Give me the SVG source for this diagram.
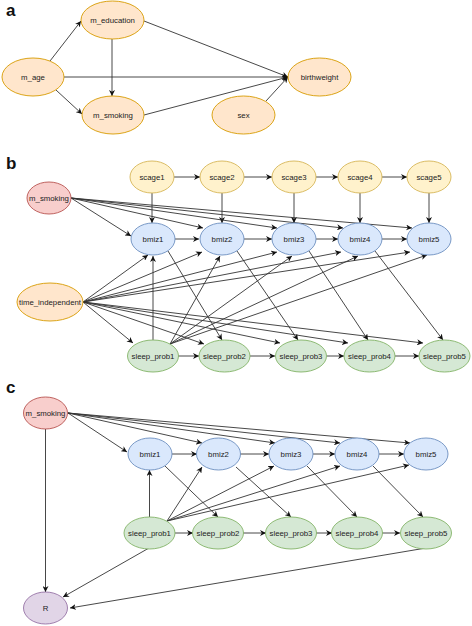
<svg xmlns="http://www.w3.org/2000/svg" width="472" height="626" viewBox="0 0 472 626">
<defs>
<marker id="arr" viewBox="0 0 10 10" refX="10" refY="5" markerWidth="6" markerHeight="6" markerUnits="userSpaceOnUse" orient="auto"><path d="M0,0 L10,5 L0,10 L3,5 z" fill="#111"/></marker>
<style>
.e{fill:none;stroke:#333;stroke-width:0.9;marker-end:url(#arr)}
.o{fill:#ffe6cc;stroke:#d79b00}
.y{fill:#fff2cc;stroke:#d6b656}
.r{fill:#f8cecc;stroke:#b85450}
.b{fill:#dae8fc;stroke:#6c8ebf}
.g{fill:#d5e8d4;stroke:#82b366}
.p{fill:#e1d5e7;stroke:#9673a6}
ellipse{stroke-width:0.9}
text{font-family:"Liberation Sans",Arial,sans-serif;font-size:7.8px;fill:#222;text-anchor:middle;dominant-baseline:central}
.lab{font-size:17px;font-weight:bold;fill:#111;text-anchor:start;dominant-baseline:auto}
</style>
</defs>
<text class="lab" x="6" y="16">a</text>
<text class="lab" x="6" y="169">b</text>
<text class="lab" x="6" y="393">c</text>
<g id="connectors">
<path class="e" d="M50,61 L81,21"/>
<path class="e" d="M56,90 L82,114"/>
<path class="e" d="M112,39 L112,96"/>
<path class="e" d="M144,21 L288,77"/>
<path class="e" d="M64,77 L288,77"/>
<path class="e" d="M144,115 L288,77"/>
<path class="e" d="M266,101 L288,77"/>
<path class="e" d="M174,177 L200,177"/>
<path class="e" d="M244,177 L272,177"/>
<path class="e" d="M316,177 L338,177"/>
<path class="e" d="M382,177 L407,177"/>
<path class="e" d="M152,193 L152,223"/>
<path class="e" d="M222,193 L222,223"/>
<path class="e" d="M294,193 L294,223"/>
<path class="e" d="M360,193 L360,223"/>
<path class="e" d="M429,193 L429,223"/>
<path class="e" d="M175,239 L199,239"/>
<path class="e" d="M244,239 L272,239"/>
<path class="e" d="M316,239 L338,239"/>
<path class="e" d="M382,239 L407,239"/>
<path class="e" d="M71,198 L131,236"/>
<path class="e" d="M71,198 L203,228"/>
<path class="e" d="M71,198 L277,228"/>
<path class="e" d="M71,198 L343,228"/>
<path class="e" d="M71,198 L412,228"/>
<path class="e" d="M83,302 L148,255"/>
<path class="e" d="M83,302 L202,252"/>
<path class="e" d="M83,302 L277,252"/>
<path class="e" d="M83,302 L341,252"/>
<path class="e" d="M83,302 L410,252"/>
<path class="e" d="M83,302 L133,343"/>
<path class="e" d="M83,302 L204,344"/>
<path class="e" d="M83,302 L280,343"/>
<path class="e" d="M83,302 L348,343"/>
<path class="e" d="M83,302 L423,343"/>
<path class="e" d="M153,340 L153,256"/>
<path class="e" d="M170,344 L220,256"/>
<path class="e" d="M170,344 L292,256"/>
<path class="e" d="M170,344 L358,256"/>
<path class="e" d="M170,344 L427,255"/>
<path class="e" d="M168,251 L222,340"/>
<path class="e" d="M237,251 L298,340"/>
<path class="e" d="M309,251 L368,340"/>
<path class="e" d="M375,251 L443,340"/>
<path class="e" d="M178,356 L199,356"/>
<path class="e" d="M250,356 L275,356"/>
<path class="e" d="M327,356 L344,356"/>
<path class="e" d="M395,356 L419,356"/>
<path class="e" d="M68,413 L127,452"/>
<path class="e" d="M68,413 L202,443"/>
<path class="e" d="M68,413 L275,443"/>
<path class="e" d="M68,413 L340,443"/>
<path class="e" d="M68,413 L410,443"/>
<path class="e" d="M45.5,429 L45.5,592"/>
<path class="e" d="M172,454 L197,454"/>
<path class="e" d="M240,454 L269,454"/>
<path class="e" d="M313,454 L335,454"/>
<path class="e" d="M379,454 L404,454"/>
<path class="e" d="M165,466 L218,517"/>
<path class="e" d="M236,467 L291,517"/>
<path class="e" d="M307,466 L357,517"/>
<path class="e" d="M373,466 L423,517"/>
<path class="e" d="M149.5,517 L149.5,470"/>
<path class="e" d="M167,521 L202,467"/>
<path class="e" d="M167,521 L274,466"/>
<path class="e" d="M167,521 L340,466"/>
<path class="e" d="M167,521 L409,465"/>
<path class="e" d="M175,533 L193,533"/>
<path class="e" d="M243,533 L266,533"/>
<path class="e" d="M316,533 L332,533"/>
<path class="e" d="M382,533 L400,533"/>
<path class="e" d="M149,548 L63,597"/>
<path class="e" d="M426,548 L70,608"/>
</g>
<g id="a_m_age"><ellipse class="o" cx="33" cy="77" rx="31" ry="19"/><text x="33" y="77">m_age</text></g>
<g id="a_m_education"><ellipse class="o" cx="112.5" cy="20" rx="31.5" ry="19"/><text x="112.5" y="20">m_education</text></g>
<g id="a_m_smoking"><ellipse class="o" cx="113" cy="115" rx="31" ry="19"/><text x="113" y="115">m_smoking</text></g>
<g id="a_birthweight"><ellipse class="o" cx="319.5" cy="77" rx="31.5" ry="19"/><text x="319.5" y="77">birthweight</text></g>
<g id="a_sex"><ellipse class="o" cx="243.5" cy="115" rx="31.5" ry="19"/><text x="243.5" y="115">sex</text></g>

<g id="b_scage1"><ellipse class="y" cx="152" cy="177" rx="22" ry="16"/><text x="152" y="177">scage1</text></g>
<g id="b_scage2"><ellipse class="y" cx="222" cy="177" rx="22" ry="16"/><text x="222" y="177">scage2</text></g>
<g id="b_scage3"><ellipse class="y" cx="294" cy="177" rx="22" ry="16"/><text x="294" y="177">scage3</text></g>
<g id="b_scage4"><ellipse class="y" cx="360" cy="177" rx="22" ry="16"/><text x="360" y="177">scage4</text></g>
<g id="b_scage5"><ellipse class="y" cx="429" cy="177" rx="22" ry="16"/><text x="429" y="177">scage5</text></g>
<g id="b_m_smoking"><ellipse class="r" cx="49" cy="198" rx="22" ry="16"/><text x="49" y="198">m_smoking</text></g>
<g id="b_bmiz1"><ellipse class="b" cx="153" cy="239" rx="22" ry="16"/><text x="153" y="239">bmiz1</text></g>
<g id="b_bmiz2"><ellipse class="b" cx="222" cy="239" rx="22" ry="16"/><text x="222" y="239">bmiz2</text></g>
<g id="b_bmiz3"><ellipse class="b" cx="294" cy="239" rx="22" ry="16"/><text x="294" y="239">bmiz3</text></g>
<g id="b_bmiz4"><ellipse class="b" cx="360" cy="239" rx="22" ry="16"/><text x="360" y="239">bmiz4</text></g>
<g id="b_bmiz5"><ellipse class="b" cx="429" cy="239" rx="22" ry="16"/><text x="429" y="239">bmiz5</text></g>
<g id="b_time_independent"><ellipse class="o" cx="50" cy="302" rx="33" ry="19"/><text x="50" y="302">time_independent</text></g>
<g id="b_sleep_prob1"><ellipse class="g" cx="153" cy="356" rx="25.5" ry="16"/><text x="153" y="356">sleep_prob1</text></g>
<g id="b_sleep_prob2"><ellipse class="g" cx="224.5" cy="356" rx="25.5" ry="16"/><text x="224.5" y="356">sleep_prob2</text></g>
<g id="b_sleep_prob3"><ellipse class="g" cx="301" cy="356" rx="25.5" ry="16"/><text x="301" y="356">sleep_prob3</text></g>
<g id="b_sleep_prob4"><ellipse class="g" cx="369.5" cy="356" rx="25.5" ry="16"/><text x="369.5" y="356">sleep_prob4</text></g>
<g id="b_sleep_prob5"><ellipse class="g" cx="444.5" cy="356" rx="25.5" ry="16"/><text x="444.5" y="356">sleep_prob5</text></g>

<g id="c_m_smoking"><ellipse class="r" cx="45.5" cy="413" rx="22" ry="16"/><text x="45.5" y="413">m_smoking</text></g>
<g id="c_bmiz1"><ellipse class="b" cx="150" cy="454" rx="22" ry="16"/><text x="150" y="454">bmiz1</text></g>
<g id="c_bmiz2"><ellipse class="b" cx="218.5" cy="454" rx="22" ry="16"/><text x="218.5" y="454">bmiz2</text></g>
<g id="c_bmiz3"><ellipse class="b" cx="291" cy="454" rx="22" ry="16"/><text x="291" y="454">bmiz3</text></g>
<g id="c_bmiz4"><ellipse class="b" cx="357" cy="454" rx="22" ry="16"/><text x="357" y="454">bmiz4</text></g>
<g id="c_bmiz5"><ellipse class="b" cx="426" cy="454" rx="22" ry="16"/><text x="426" y="454">bmiz5</text></g>
<g id="c_sleep_prob1"><ellipse class="g" cx="149.5" cy="533" rx="25.5" ry="16"/><text x="149.5" y="533">sleep_prob1</text></g>
<g id="c_sleep_prob2"><ellipse class="g" cx="218" cy="533" rx="25.5" ry="16"/><text x="218" y="533">sleep_prob2</text></g>
<g id="c_sleep_prob3"><ellipse class="g" cx="291" cy="533" rx="25.5" ry="16"/><text x="291" y="533">sleep_prob3</text></g>
<g id="c_sleep_prob4"><ellipse class="g" cx="357" cy="533" rx="25.5" ry="16"/><text x="357" y="533">sleep_prob4</text></g>
<g id="c_sleep_prob5"><ellipse class="g" cx="426" cy="533" rx="25.5" ry="16"/><text x="426" y="533">sleep_prob5</text></g>
<g id="c_R"><ellipse class="p" cx="45.5" cy="608" rx="22" ry="16"/><text x="45.5" y="608">R</text></g>
</svg>
